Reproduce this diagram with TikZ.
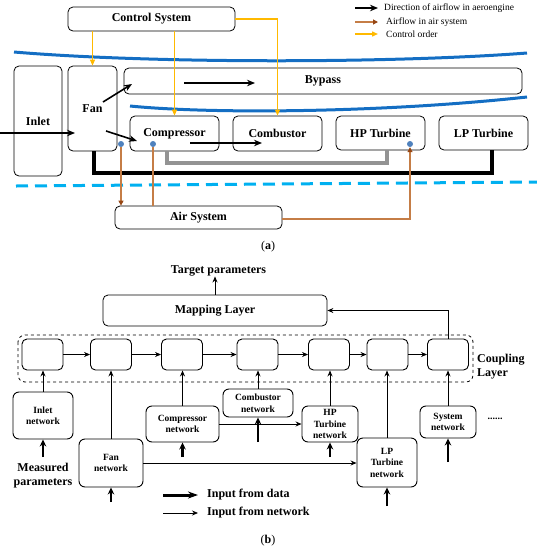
\documentclass[tikz,border=0pt]{standalone}
\usepackage{fontspec}
\setmainfont{Liberation Serif}
\usetikzlibrary{arrows.meta,calc}
\definecolor{ctrlY}{RGB}{255,185,0}
\definecolor{airB}{RGB}{197,125,70}
\definecolor{airBd}{RGB}{150,70,20}
\definecolor{casing}{RGB}{20,110,195}
\definecolor{shaftD}{RGB}{0,176,240}
\definecolor{dotB}{RGB}{79,129,189}
\begin{document}
\begin{tikzpicture}[x=1pt,y=-1pt,
  box/.style={draw, rounded corners=5pt, line width=0.8pt, inner sep=0pt, font=\fontsize{12}{14}\selectfont\bfseries},
  flow/.style={-{Stealth[length=8pt,width=6.5pt]}, line width=1.6pt},
  ctrlarrow/.style={draw=ctrlY, line width=1.4pt, -{Triangle[length=6pt,width=5pt,color=ctrlY]}},
  airline/.style={draw=airB, line width=1.1pt},
  airarrow/.style={draw=airB, line width=1.1pt, -{Triangle[length=5pt,width=5pt,color=airBd]}},
  dotn/.style={circle, fill=dotB, inner sep=0pt, minimum size=6pt},
  legtext/.style={anchor=west, font=\fontsize{9.5}{11}\selectfont, inner sep=0pt},
  net/.style={draw, rounded corners=6pt, line width=0.9pt, align=center, inner sep=0pt, font=\fontsize{9.5}{11.5}\selectfont\bfseries},
  cbox/.style={draw, rounded corners=5pt, line width=0.9pt, minimum width=41pt, minimum height=31pt, inner sep=0pt},
  thin/.style={-{Stealth[length=6pt,width=5pt]}, line width=0.8pt},
  thick/.style={-{Stealth[length=7pt,width=6.5pt]}, line width=2.4pt},
  lbl/.style={font=\fontsize{12}{14}\selectfont\bfseries, inner sep=0pt, align=center}
]
\useasboundingbox (0,0) rectangle (537,550);

% ---------------- (a) ----------------
% casing curves
\draw[casing, line width=3pt] (14,52) .. controls (150,63.5) and (390,63.5) .. (527,53);
\draw[casing, line width=3pt] (130,106) .. controls (210,114) and (380,113) .. (527,97);
% shaft line
\draw[shaftD, line width=3pt, dash pattern=on 12pt off 7pt] (16,186) -- (537,182);

\node[box, minimum width=167pt, minimum height=24pt] (ctrl) at (151.5,19) {Control System};
\node[box, minimum width=48pt, minimum height=110pt] (inlet) at (38,121) {Inlet};
\node[box, minimum width=49pt, minimum height=85pt] (fan) at (92.5,108.5) {Fan};
\node[box, minimum width=398pt, minimum height=26pt] (bypass) at (323,81) {Bypass};
\node[box, minimum width=89pt, minimum height=35pt] (comp) at (174.5,133.5) {Compressor};
\node[box, minimum width=89pt, minimum height=35pt] (comb) at (277.5,133.5) {Combustor};
\node[box, minimum width=89pt, minimum height=34pt] (hpt) at (380.5,133) {HP Turbine};
\node[box, minimum width=89pt, minimum height=34pt] (lpt) at (483.5,133) {LP Turbine};
\node[box, minimum width=167pt, minimum height=23pt] (air) at (198.5,217.5) {Air System};

% shafts
\draw[line width=4pt, line join=miter] (fan.south) ++(1.5,0) coordinate (fs) -- ++(0,22) -| ([xshift=8.5pt]lpt.south);
\draw[gray!85, line width=4pt, line join=miter] ([xshift=-7.5pt]comp.south) -- ++(0,12) -| ([xshift=6.5pt]hpt.south);

% control arrows
\coordinate (ycorner) at (ctrl.east -| comb.north);
\draw[ctrlarrow] (fan.north |- ctrl.south) -- (fan.north);
\draw[ctrlarrow] (comp.north |- ctrl.south) -- (comp.north);
\draw[ctrlarrow] (ctrl.east) -- (ycorner) -- (comb.north);

% airflow arrows
\coordinate (i0) at (0,133);  \coordinate (i1) at (75,133);
\coordinate (f0) at (103,102); \coordinate (f1) at (132,84);
\coordinate (g0) at (106,131); \coordinate (g1) at (137,141);
\coordinate (b0) at (184,83);  \coordinate (b1) at (255,83);
\coordinate (c0) at (190,143); \coordinate (c1) at (262,143);
\draw[flow] (i0) -- (i1);
\draw[flow] (f0) -- (f1);
\draw[flow] (g0) -- (g1);
\draw[flow] (b0) -- (b1);
\draw[flow] (c0) -- (c1);

% air system
\node[dotn] (d1) at (121,144) {};
\node[dotn] (d2) at (153,144) {};
\node[dotn] (d3) at (410,144) {};
\draw[airarrow] (d1) -- (d1 |- air.north);
\draw[airline] (d2) -- (d2 |- air.north);
\draw[airarrow] ([yshift=-1.5pt]air.east) -| (d3.south);

% legend (a)
\coordinate (la0) at (355,8);  \coordinate (la1) at (378,8);
\coordinate (lb0) at (355,22); \coordinate (lb1) at (378,22);
\coordinate (lc0) at (355,34); \coordinate (lc1) at (378,34);
\draw[flow] (la0) -- (la1);
\draw[airarrow] (lb0) -- (lb1);
\draw[ctrlarrow] (lc0) -- (lc1);
\node[legtext] (lat) at (384,8) {Direction of airflow in aeroengine};
\node[legtext] (lbt) at (386,22) {Airflow in air system};
\node[legtext] (lct) at (386,34) {Control order};

\node[font=\fontsize{12}{14}\selectfont] (capa) at (268,247) {(\textbf{a})};

% ---------------- (b) ----------------
\node[lbl] (target) at (218.5,271) {Target parameters};
\node[box, minimum width=224pt, minimum height=31pt] (map) at (215,310.5) {Mapping Layer};
\draw[thin] (map.north) -- (map.north |- target.south);

\draw[dashed, line width=0.8pt, rounded corners=7pt] (18,335) rectangle (473,382);
\node[lbl, anchor=west, align=left] (coup) at (477,366.5) {Coupling\\Layer};

\node[cbox] (k1) at (42.5,354.5) {};
\node[cbox] (k2) at (111,354.5) {};
\node[cbox] (k3) at (182,354.5) {};
\node[cbox] (k4) at (257.5,354.5) {};
\node[cbox] (k5) at (329,354.5) {};
\node[cbox] (k6) at (387.5,354.5) {};
\node[cbox] (k7) at (448,354.5) {};
\draw[thin] (k1) -- (k2);
\draw[thin] (k2) -- (k3);
\draw[thin] (k3) -- (k4);
\draw[thin] (k4) -- (k5);
\draw[thin] (k5) -- (k6);
\draw[thin] (k6) -- (k7);
\draw[thin] (k7.north) |- (map.east);

\node[net, minimum width=60pt, minimum height=47pt] (inletnet) at (43,415.5) {Inlet\\network};
\node[net, minimum width=64pt, minimum height=48pt] (fannet) at (111,463) {Fan\\network};
\node[net, minimum width=73pt, minimum height=36pt] (compnet) at (182.5,424) {Compressor\\network};
\node[net, minimum width=70pt, minimum height=28pt] (combnet) at (258,403) {Combustor\\network};
\node[net, minimum width=56pt, minimum height=36pt] (hpnet) at (330,424) {HP\\Turbine\\network};
\node[net, minimum width=60pt, minimum height=49pt] (lpnet) at (387,462.5) {LP\\Turbine\\network};
\node[net, minimum width=56pt, minimum height=32pt] (sysnet) at (448,422) {System\\network};
\node[font=\fontsize{10}{12}\selectfont\bfseries] (dots) at (495,419) {......};

\draw[thin] (inletnet.north) -- (inletnet.north |- k1.south);
\draw[thin] (fannet.north) -- (fannet.north |- k2.south);
\draw[thin] (compnet.north) -- (compnet.north |- k3.south);
\draw[thin] (combnet.north) -- (combnet.north |- k4.south);
\draw[thin] (hpnet.north) -- (hpnet.north |- k5.south);
\draw[thin] (lpnet.north) -- (lpnet.north |- k6.south);
\draw[thin] (sysnet.north) -- (sysnet.north |- k7.south);

\draw[thin] (fannet.east) -- (fannet.east -| lpnet.west);
\draw[thin] (compnet.east) -- (compnet.east -| hpnet.west);

% inputs from data
\coordinate (m1) at (43,457);
\coordinate (m2) at (111,502);
\coordinate (m3) at (182.5,457);
\coordinate (m4) at (258,442);
\coordinate (m5) at (330,457);
\coordinate (m6) at (387,506);
\coordinate (m7) at (448,462);
\draw[thick] (m1) -- (inletnet.south);
\draw[thick] (m2) -- (fannet.south);
\draw[thick] (m3) -- (compnet.south);
\draw[thick] (m4) -- (combnet.south);
\draw[thick] (m5) -- (hpnet.south);
\draw[thick] (m6) -- (lpnet.south);
\draw[thick] (m7) -- (sysnet.south);

\node[lbl] (meas) at (43,476) {Measured\\parameters};

% legend (b)
\coordinate (lt0) at (163,495); \coordinate (lt1) at (198,495);
\coordinate (ln0) at (163,513); \coordinate (ln1) at (198,513);
\draw[-{Stealth[length=10pt,width=7pt]}, line width=3pt] (lt0) -- (lt1);
\draw[thin] (ln0) -- (ln1);
\node[lbl, anchor=west] (ltt) at (207,495) {Input from data};
\node[lbl, anchor=west] (lnt) at (207,513) {Input from network};

\node[font=\fontsize{12}{14}\selectfont] (capb) at (268,541) {(\textbf{b})};
\end{tikzpicture}
\end{document}
